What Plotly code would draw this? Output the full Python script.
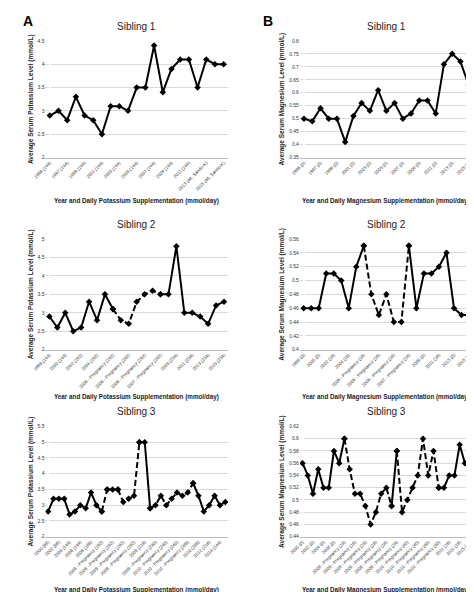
import plotly.graph_objects as go

# --- data ---
k1_labels = ["1996 (144)", "1997 (144)", "1999 (144)", "2001 (144)", "2003 (144)", "2005 (144)",
             "2007 (144)", "2009 (144)", "2011 (144)", "2013 (48, Sando-K)", "2015 (48, Sando-K)"]
k1_vals = [2.9, 3.0, 2.8, 3.3, 2.9, 2.8, 2.5, 3.1, 3.1, 3.0, 3.5, 3.5, 4.4, 3.4, 3.9, 4.1, 4.1, 3.5, 4.1, 4.0, 4.0]
k1_dashed = []

mg1_labels = ["1996 (0)", "1997 (0)", "1999 (0)", "2001 (0)", "2003 (0)", "2005 (0)",
              "2007 (0)", "2009 (0)", "2011 (0)", "2013 (0)", "2015 (0)"]
mg1_vals = [0.50, 0.49, 0.54, 0.50, 0.50, 0.41, 0.51, 0.56, 0.53, 0.61, 0.53, 0.56, 0.50, 0.52,
            0.57, 0.57, 0.52, 0.71, 0.75, 0.72, 0.63]
mg1_dashed = []

k2_labels = ["1998 (144)", "2000 (144)", "2002 (192)", "2004 (192)", "2006 - Pregnancy (192)",
             "2006 - Pregnancy (192)", "2006 - Pregnancy (192)", "2007 - Pregnancy (192)",
             "2009 (234)", "2011 (234)", "2013 (234)", "2015 (234)"]
k2_vals = [2.9, 2.6, 3.0, 2.5, 2.6, 3.3, 2.8, 3.5, 3.1, 2.8, 2.7, 3.3, 3.5, 3.6, 3.5, 3.5, 4.8,
           3.0, 3.0, 2.9, 2.7, 3.2, 3.3]
k2_dashed = [(8, 14)]

mg2_labels = ["1998 (0)", "2000 (0)", "2002 (16)", "2004 (16)", "2006 - Pregnancy (16)",
              "2006 - Pregnancy (16)", "2006 - Pregnancy (16)", "2007 - Pregnancy (16)",
              "2009 (0)", "2011 (16)", "2013 (0)", "2015 (0)"]
mg2_vals = [0.46, 0.46, 0.46, 0.51, 0.51, 0.50, 0.46, 0.52, 0.55, 0.48, 0.45, 0.48, 0.44, 0.44,
            0.55, 0.46, 0.51, 0.51, 0.52, 0.54, 0.46, 0.45, 0.45]
mg2_dashed = [(8, 14)]

k3_labels = ["2000 (96)", "2002 (96)", "2004 (144)", "2006 (144)", "2008 (168)",
             "2008 - Pregnancy (192)", "2008 - Pregnancy (192)", "2009 - Pregnancy (192)",
             "2009 - Pregnancy (192)", "2009 (216)", "2009 - Pregnancy (240)", "2010 - Pregnancy (240)",
             "2010 - Pregnancy (240)", "2010 - Pregnancy (288)", "2010 (288)", "2012 (216)", "2014 (144)"]
k3_vals = [2.8, 3.2, 3.2, 3.2, 2.7, 2.8, 3.0, 2.9, 3.4, 3.0, 2.8, 3.5, 3.5, 3.5, 3.1, 3.2, 3.3,
           5.0, 5.0, 2.9, 3.0, 3.3, 3.0, 3.2, 3.4, 3.3, 3.4, 3.7, 3.3, 2.8, 3.0, 3.3, 3.0, 3.1]
k3_dashed = [(10, 11), (13, 17), (19, 27)]

mg3_labels = ["2000 (0)", "2002 (0)", "2004 (0)", "2006 (0)", "2008 - Pregnancy (16)",
              "2008 - Pregnancy (16)", "2008 - Pregnancy (16)", "2009 - Pregnancy (16)",
              "2009 - Pregnancy (16)", "2009 - Pregnancy (24)", "2010 - Pregnancy (40)",
              "2010 - Pregnancy (40)", "2010 - Pregnancy (40)", "2010 - Pregnancy (40)",
              "2011 (16)", "2011 (16)", "2015 (16)"]
mg3_vals = [0.56, 0.54, 0.51, 0.55, 0.52, 0.52, 0.58, 0.56, 0.60, 0.55, 0.51, 0.51, 0.49, 0.46,
            0.48, 0.51, 0.52, 0.49, 0.58, 0.48, 0.50, 0.52, 0.54, 0.60, 0.54, 0.58, 0.52, 0.52,
            0.54, 0.54, 0.59, 0.56, 0.56]
mg3_dashed = [(8, 17), (18, 26)]

K_TITLE = "Average Serum Potassium Level (mmol/L)"
MG_TITLE = "Average Serum Magnesium Level (mmol/L)"
K_X = "Year and Daily Potassium Supplementation (mmol/day)"
MG_X = "Year and Daily Magnesium Supplementation (mmol/day)"

XA = [0.053, 0.449]
XB = [0.605, 0.98]
panels = [
    # vals, labels, dashed, title, ytitle, xtitle, yrange, dtick, xdom, ydom
    (k1_vals, k1_labels, k1_dashed, "Sibling 1", K_TITLE, K_X, [2, 4.5], 0.5, XA, [0.75, 0.949]),
    (mg1_vals, mg1_labels, mg1_dashed, "Sibling 1", MG_TITLE, MG_X, [0.35, 0.8], 0.05, XB, [0.75, 0.949]),
    (k2_vals, k2_labels, k2_dashed, "Sibling 2", K_TITLE, K_X, [2, 5], 0.5, XA, [0.422, 0.611]),
    (mg2_vals, mg2_labels, mg2_dashed, "Sibling 2", MG_TITLE, MG_X, [0.4, 0.56], 0.02, XB, [0.422, 0.611]),
    (k3_vals, k3_labels, k3_dashed, "Sibling 3", K_TITLE, K_X, [2, 5.5], 0.5, XA, [0.103, 0.291]),
    (mg3_vals, mg3_labels, mg3_dashed, "Sibling 3", MG_TITLE, MG_X, [0.44, 0.62], 0.02, XB, [0.103, 0.291]),
]

fig = go.Figure()
anns = []
x_title_y = [0.675, 0.342, 0.012]

for i, (vals, labels, dashed, title, ytitle, xtitle, yr, dt, xd, yd) in enumerate(panels):
    n = i + 1
    xa = "x" if n == 1 else f"x{n}"
    ya = "y" if n == 1 else f"y{n}"
    xs = list(range(len(vals)))
    in_dash = set()
    for a, b in dashed:
        in_dash.update(range(a + 1, b))
    solid = [None if j in in_dash else v for j, v in enumerate(vals)]
    sx = list(xs)
    for a, b in sorted(dashed, reverse=True):
        if b - a == 1:
            solid.insert(b, None)
            sx.insert(b, None)
    fig.add_trace(go.Scatter(x=sx, y=solid, mode="lines+markers", xaxis=xa, yaxis=ya,
                             line=dict(color="black", width=2),
                             marker=dict(symbol="diamond", size=5, color="black"),
                             showlegend=False, connectgaps=False))
    for a, b in dashed:
        fig.add_trace(go.Scatter(x=xs[a:b + 1], y=vals[a:b + 1], mode="lines+markers",
                                 xaxis=xa, yaxis=ya,
                                 line=dict(color="black", width=2, dash="6px,3px"),
                                 marker=dict(symbol="diamond", size=5, color="black"),
                                 showlegend=False))
    fig.update_layout(**{
        ("xaxis" if n == 1 else f"xaxis{n}"): dict(
            domain=xd, anchor=ya, range=[-0.5, len(vals) - 0.5],
            tickvals=list(range(0, 2 * len(labels), 2)), ticktext=labels,
            tickangle=-45, tickfont=dict(size=4.5, color="#333"),
            showgrid=False, showline=True, linecolor="#bbb", ticks=""),
        ("yaxis" if n == 1 else f"yaxis{n}"): dict(
            domain=yd, anchor=xa, range=yr, dtick=dt,
            tickfont=dict(size=5, color="#333"), showgrid=True, gridcolor="#d9d9d9",
            showline=False, zeroline=False,
            title=dict(text=f"<b>{ytitle}</b>", font=dict(size=6.5), standoff=3)),
    })
    xc = (xd[0] + xd[1]) / 2
    anns.append(dict(text=title, x=xc, y=yd[1] + 0.012, xref="paper", yref="paper",
                     xanchor="center", yanchor="bottom", showarrow=False,
                     font=dict(size=10, color="#222")))
    anns.append(dict(text=f"<b>{xtitle}</b>", x=xc, y=x_title_y[i // 2], xref="paper", yref="paper",
                     xanchor="center", yanchor="middle", showarrow=False,
                     font=dict(size=6.3, color="#222")))

anns.append(dict(text="<b>A</b>", x=0.0, y=1.0, xref="paper", yref="paper", xanchor="left",
                 yanchor="top", showarrow=False, font=dict(size=14, color="black")))
anns.append(dict(text="<b>B</b>", x=0.52, y=1.0, xref="paper", yref="paper", xanchor="left",
                 yanchor="top", showarrow=False, font=dict(size=14, color="black")))

fig.update_layout(width=474, height=592, margin=dict(l=0, r=0, t=0, b=0),
                  paper_bgcolor="white", plot_bgcolor="white",
                  font=dict(family="Liberation Sans, Arial, sans-serif", color="#222"),
                  annotations=anns)
fig.write_html("out.html")
